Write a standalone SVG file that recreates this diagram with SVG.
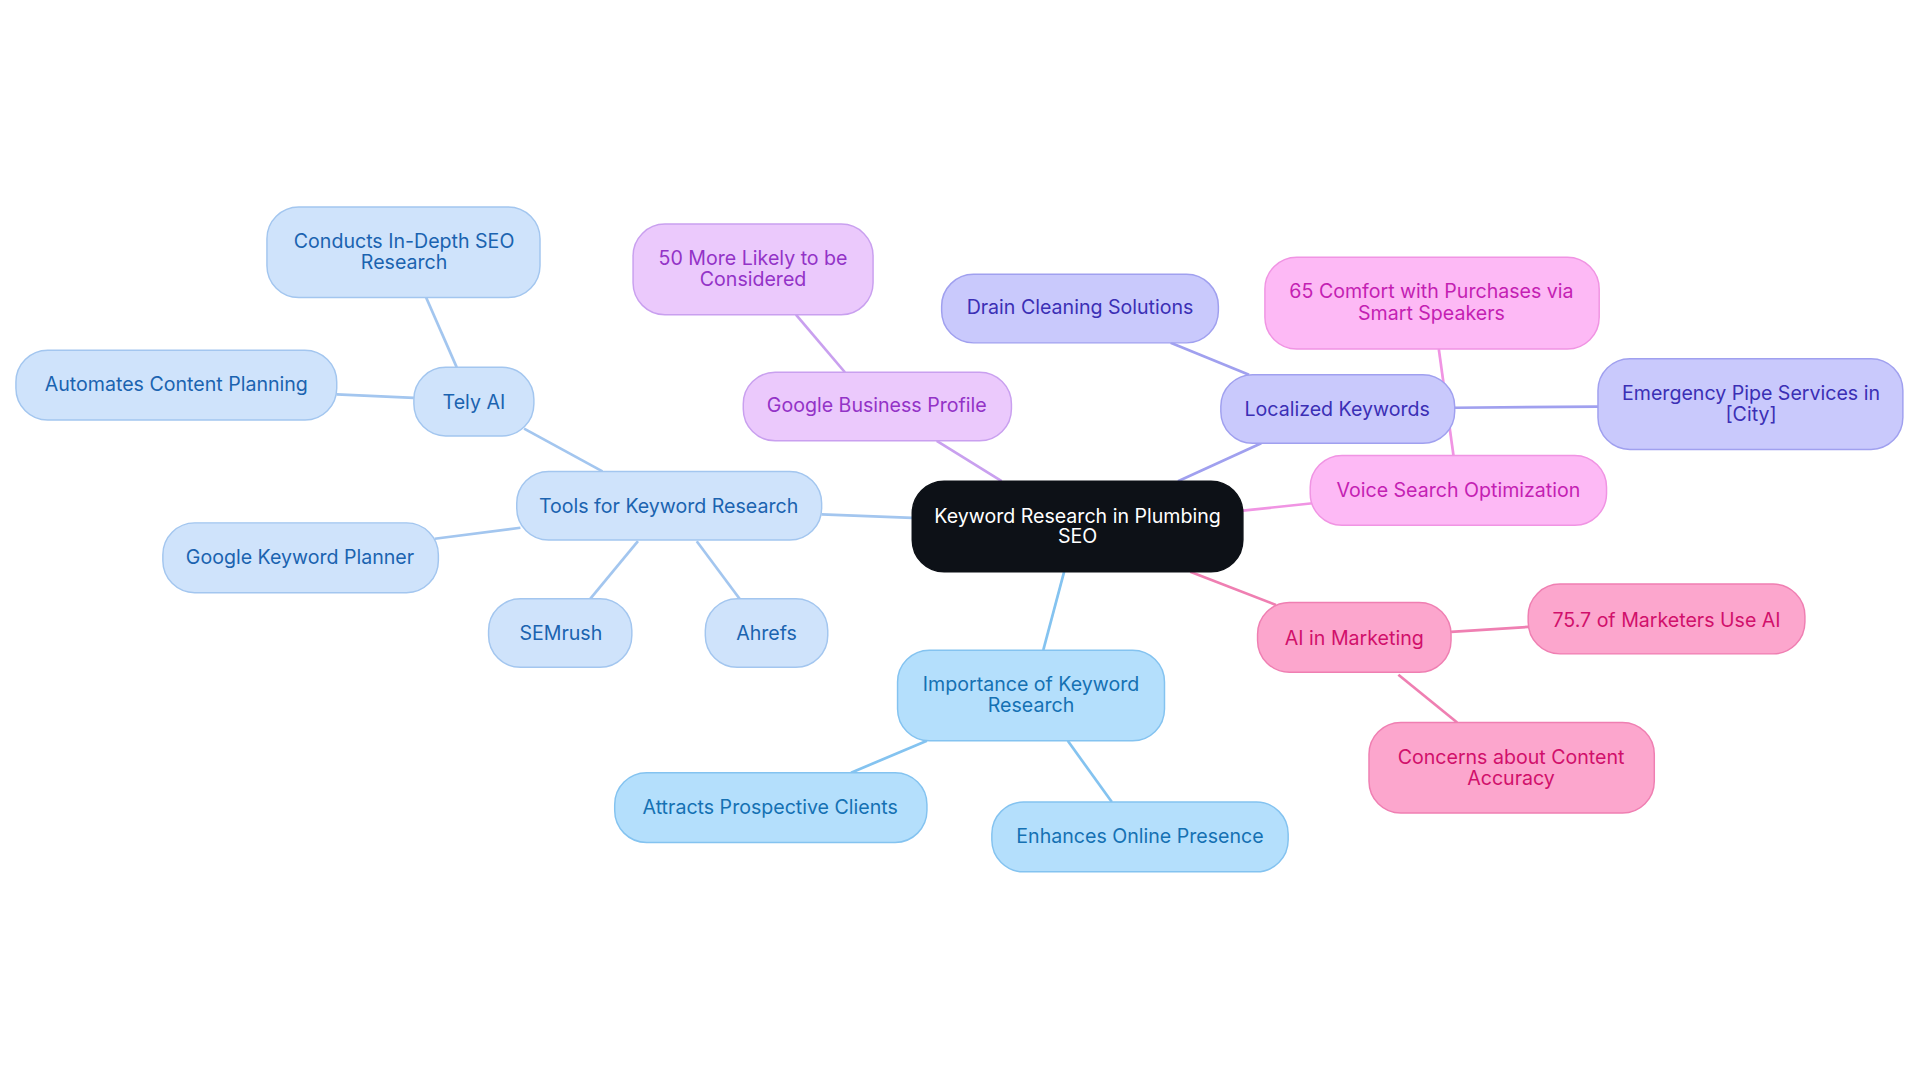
<svg xmlns="http://www.w3.org/2000/svg" width="1920" height="1083" viewBox="0 0 1920 1083">
<style>
text{font-family:Inter,"Noto Sans",sans-serif;font-size:16px;text-anchor:middle;dominant-baseline:central}
.b rect{fill:#cfe3fb;stroke:#a3c6ef}.b text{fill:#1b63b0}
.p rect{fill:#ebc9fc;stroke:#c9a0ef}.p text{fill:#9333c7}
.v rect{fill:#c9c9fc;stroke:#a0a0ef}.v text{fill:#3b2fb5}
.m rect{fill:#fdb9f5;stroke:#f094e3}.m text{fill:#c41fb3}
.r rect{fill:#fca6cd;stroke:#ef7fb2}.r text{fill:#d1106b}
.s rect{fill:#b4dffc;stroke:#84c3f0}.s text{fill:#1571b3}
.c rect{fill:#0d1117;stroke:#0d1117}.c text{fill:#fff}
rect{stroke-width:1.2}
#edges line{stroke-width:2.2}
</style>
<rect width="1920" height="1083" fill="#fff"/>
<g transform="scale(1.2245)">
<g id="edges">
<g stroke="#a3c6ef">
<line x1="671" y1="420" x2="745" y2="423"/><line x1="492" y1="385" x2="428" y2="350"/><line x1="373" y1="300" x2="348" y2="243"/><line x1="338" y1="325" x2="275" y2="322"/><line x1="425" y1="431" x2="355" y2="440"/><line x1="521" y1="442" x2="482" y2="489"/><line x1="569" y1="442" x2="604" y2="489"/></g>
<g stroke="#c9a0ef"><line x1="818" y1="393" x2="765" y2="360"/><line x1="690" y1="304" x2="650" y2="257"/></g>
<g stroke="#a0a0ef"><line x1="962" y1="393" x2="1030" y2="362"/><line x1="1020" y1="306" x2="956" y2="280"/><line x1="1188" y1="333" x2="1305" y2="332"/></g>
<g stroke="#f094e3"><line x1="1015" y1="417" x2="1072" y2="411"/><line x1="1187" y1="372" x2="1175" y2="285"/></g>
<g stroke="#ef7fb2"><line x1="972" y1="467" x2="1042" y2="494"/><line x1="1185" y1="516" x2="1248" y2="512"/><line x1="1142" y1="551" x2="1190" y2="590"/></g>
<g stroke="#84c3f0"><line x1="869" y1="467" x2="852" y2="531"/><line x1="757" y1="605" x2="695" y2="631"/><line x1="872" y1="605" x2="908" y2="655"/></g>
</g>
<g id="center" class="c"><rect x="745" y="393" width="270" height="74" rx="26"/><text x="880" y="421">Keyword Research in Plumbing</text><text x="880" y="438">SEO</text></g>
<g id="tools" class="b"><rect x="422" y="385" width="249" height="56" rx="26"/><text x="546" y="413">Tools for Keyword Research</text></g>
<g id="tely" class="b"><rect x="338" y="300" width="98" height="56" rx="26"/><text x="387" y="328">Tely AI</text></g>
<g id="conducts" class="b"><rect x="218" y="169" width="223" height="74" rx="26"/><text x="330" y="197">Conducts In-Depth SEO</text><text x="330" y="214">Research</text></g>
<g id="automates" class="b"><rect x="13" y="286" width="262" height="57" rx="26"/><text x="144" y="314">Automates Content Planning</text></g>
<g id="gkp" class="b"><rect x="133" y="427" width="225" height="57" rx="26"/><text x="245" y="455">Google Keyword Planner</text></g>
<g id="semrush" class="b"><rect x="399" y="489" width="117" height="56" rx="26"/><text x="458" y="517">SEMrush</text></g>
<g id="ahrefs" class="b"><rect x="576" y="489" width="100" height="56" rx="26"/><text x="626" y="517">Ahrefs</text></g>
<g id="gbp" class="p"><rect x="607" y="304" width="219" height="56" rx="26"/><text x="716" y="331">Google Business Profile</text></g>
<g id="fifty" class="p"><rect x="517" y="183" width="196" height="74" rx="26"/><text x="615" y="211">50 More Likely to be</text><text x="615" y="228">Considered</text></g>
<g id="localized" class="v"><rect x="997" y="306" width="191" height="56" rx="26"/><text x="1092" y="334">Localized Keywords</text></g>
<g id="drain" class="v"><rect x="769" y="224" width="226" height="56" rx="26"/><text x="882" y="251">Drain Cleaning Solutions</text></g>
<g id="emergency" class="v"><rect x="1305" y="293" width="249" height="74" rx="26"/><text x="1430" y="321">Emergency Pipe Services in</text><text x="1430" y="338">[City]</text></g>
<g id="voice" class="m"><rect x="1070" y="372" width="242" height="57" rx="26"/><text x="1191" y="400">Voice Search Optimization</text></g>
<g id="comfort" class="m"><rect x="1033" y="210" width="273" height="75" rx="26"/><text x="1169" y="238">65 Comfort with Purchases via</text><text x="1169" y="256">Smart Speakers</text></g>
<g id="ai" class="r"><rect x="1027" y="492" width="158" height="57" rx="26"/><text x="1106" y="521">AI in Marketing</text></g>
<g id="seventyfive" class="r"><rect x="1248" y="477" width="226" height="57" rx="26"/><text x="1361" y="506">75.7 of Marketers Use AI</text></g>
<g id="concerns" class="r"><rect x="1118" y="590" width="233" height="74" rx="26"/><text x="1234" y="618">Concerns about Content</text><text x="1234" y="635">Accuracy</text></g>
<g id="importance" class="s"><rect x="733" y="531" width="218" height="74" rx="26"/><text x="842" y="559">Importance of Keyword</text><text x="842" y="576">Research</text></g>
<g id="attracts" class="s"><rect x="502" y="631" width="255" height="57" rx="26"/><text x="629" y="659">Attracts Prospective Clients</text></g>
<g id="enhances" class="s"><rect x="810" y="655" width="242" height="57" rx="26"/><text x="931" y="683">Enhances Online Presence</text></g>
</g>
</svg>
